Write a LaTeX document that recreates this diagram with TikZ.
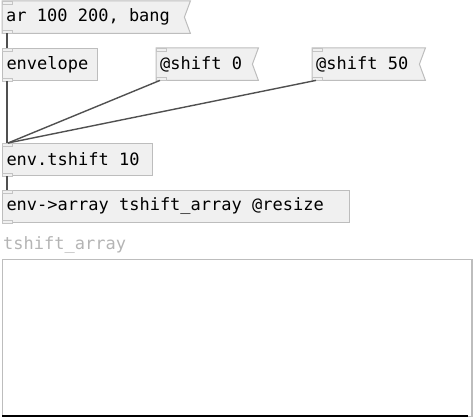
\documentclass[tikz,border=0pt]{standalone}
\usepackage{fontspec}
\XeTeXinterwordspaceshaping=2
\newfontfamily\pdmono{DejaVu Sans Mono}
\newcommand\pdfont{\pdmono\fontsize{17}{17}\selectfont}
\usetikzlibrary{backgrounds}
\definecolor{boxfill}{HTML}{F0F0F0}
\definecolor{boxline}{HTML}{BDBDBD}
\definecolor{portcol}{HTML}{C4C4C4}
\definecolor{wirecol}{HTML}{505050}
\definecolor{labelcol}{HTML}{B4B4B4}
\begin{document}
\begin{tikzpicture}[x=1pt,y=-1pt,
  txt/.style={font=\pdfont, text=black},
  obj/.style={txt, draw=boxline, fill=boxfill, line width=1pt, anchor=north west,
    inner xsep=4pt, inner ysep=0pt, minimum height=32pt, align=left},
  msg/.style={txt, draw=none, anchor=north west,
    inner xsep=4pt, inner ysep=0pt, minimum height=32pt, align=left},
  flag/.style={draw=boxline, fill=boxfill, line width=1pt},
  port/.style={draw=portcol, fill=boxfill, line width=0.8pt},
  wire/.style={draw=wirecol, line width=1.4pt}]
\useasboundingbox (0,0) rectangle (474,420);

% nodes
\node[msg, text width=180pt] (ar) at (2,1) {ar\char32 100\char32 200,\char32 bang};
\node[obj, text width=87pt] (env) at (2,48) {envelope};
\node[msg, text width=94pt] (s0) at (156,48) {@shift\char32 0};
\node[msg, text width=105pt] (s50) at (312,48) {@shift\char32 50};
\node[obj, text width=142pt] (ts) at (2,143) {env.tshift\char32 10};
\node[obj, text width=339pt] (ea) at (2,190) {env->array\char32 tshift\_array\char32 @resize};
\node[anchor=north west, inner sep=0pt, font=\pdfont, text=labelcol] (lbl) at (3,236) {tshift\_array};

% message box flags
\begin{pgfonlayer}{background}
\foreach \m in {ar,s0,s50}{
  \path[flag] (\m.north west) -- (\m.north east) -- ([xshift=-6pt]\m.east) -- (\m.south east) -- (\m.south west) -- cycle;
}
\end{pgfonlayer}

% ports
\foreach \m in {ar,env,s0,s50,ts,ea}{
  \path[port] (\m.north west) rectangle ([xshift=10pt,yshift=-3pt]\m.north west);
  \path[port] (\m.south west) rectangle ([xshift=10pt,yshift=3pt]\m.south west);
}

% array
\node[draw=boxline, line width=1pt, fill=white, anchor=north west, minimum width=470pt, minimum height=157pt, inner sep=0pt] (arr) at (2,259) {};
\draw[draw=boxline, line width=2pt] ([xshift=-1pt]arr.north east) -- ([xshift=-1pt]arr.south east);
\draw[black, line width=2pt] ([yshift=1pt]arr.south west) -- ([xshift=-5pt,yshift=1pt]arr.south east);

% wires
\draw[wire] ([xshift=5pt]ar.south west) -- ([xshift=5pt]env.north west);
\draw[wire] ([xshift=5pt]env.south west) -- ([xshift=5pt]ts.north west);
\draw[wire] ([xshift=4pt]s0.south west) -- ([xshift=6pt]ts.north west);
\draw[wire] ([xshift=4pt]s50.south west) -- ([xshift=6pt]ts.north west);
\draw[wire] ([xshift=5pt]ts.south west) -- ([xshift=5pt]ea.north west);
\end{tikzpicture}
\end{document}
